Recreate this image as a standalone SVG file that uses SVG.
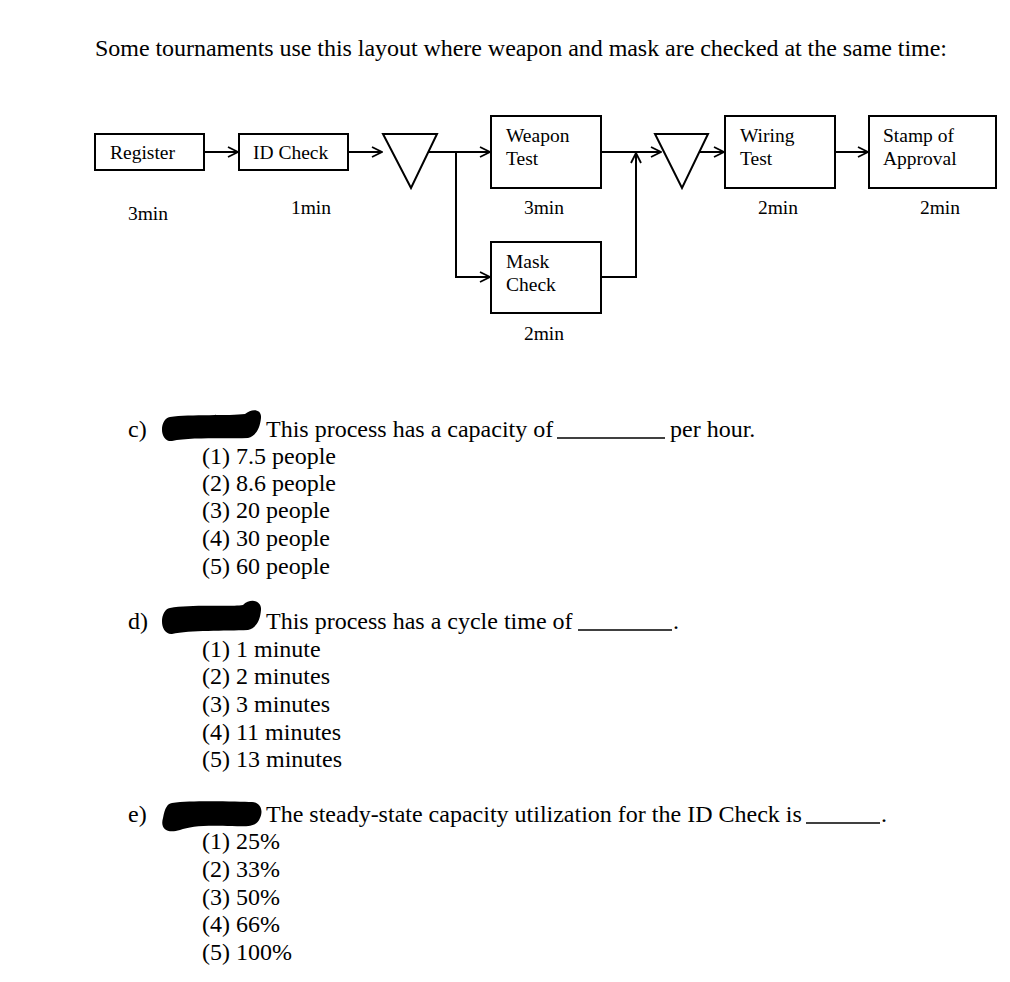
<svg xmlns="http://www.w3.org/2000/svg" width="1010" height="982" viewBox="0 0 1010 982">
<style>
text{font-family:"Liberation Serif","Times New Roman",serif;fill:#000}
.q{font-size:24px}
.d{font-size:19.5px}
.mid{text-anchor:middle}
.box{fill:#fff;stroke:#000;stroke-width:2}
.tri{fill:#fff;stroke:#000;stroke-width:2;stroke-linejoin:miter}
.ln{fill:none;stroke:#000;stroke-width:2}
.blank{stroke:#000;stroke-width:1.3}
</style>
<defs>
<marker id="ah" viewBox="0 0 12 12" refX="11" refY="6" markerWidth="12" markerHeight="12" markerUnits="userSpaceOnUse" orient="auto">
<path d="M1,1 L11,6 L1,11" fill="none" stroke="#000" stroke-width="1.8"/>
</marker>
</defs>
<rect width="1010" height="982" fill="#fff"/>
<text class="q" x="95" y="56" textLength="852" lengthAdjust="spacing">Some tournaments use this layout where weapon and mask are checked at the same time:</text>

<g id="connectors">
<line class="ln" x1="204" y1="152" x2="238" y2="152" marker-end="url(#ah)"/>
<line class="ln" x1="348" y1="152" x2="382" y2="152" marker-end="url(#ah)"/>
<line class="ln" x1="429" y1="152" x2="490" y2="152" marker-end="url(#ah)"/>
<polyline class="ln" points="456,152 456,277 490,277" marker-end="url(#ah)"/>
<line class="ln" x1="601" y1="152" x2="661" y2="152" marker-end="url(#ah)"/>
<polyline class="ln" points="601,277 636,277 636,153" marker-end="url(#ah)"/>
<line class="ln" x1="698" y1="152" x2="724" y2="152" marker-end="url(#ah)"/>
<line class="ln" x1="835" y1="152" x2="868" y2="152" marker-end="url(#ah)"/>
</g>

<g id="register">
<rect class="box" x="95" y="134" width="109" height="36"/>
<text class="d" x="110" y="159">Register</text>
<text class="d mid" x="148" y="220">3min</text>
</g>
<g id="id-check">
<rect class="box" x="239" y="134" width="109" height="36"/>
<text class="d" x="253" y="159">ID Check</text>
<text class="d mid" x="311" y="214">1min</text>
</g>
<g id="queue-1">
<polygon class="tri" points="383,134 437,134 411,188"/>
</g>
<g id="weapon-test">
<rect class="box" x="491" y="116" width="110" height="72"/>
<text class="d" x="506" y="142">Weapon</text>
<text class="d" x="506" y="165">Test</text>
<text class="d mid" x="544" y="214">3min</text>
</g>
<g id="mask-check">
<rect class="box" x="491" y="242" width="110" height="71"/>
<text class="d" x="506" y="268">Mask</text>
<text class="d" x="506" y="291">Check</text>
<text class="d mid" x="544" y="340">2min</text>
</g>
<g id="queue-2">
<polygon class="tri" points="655,134 708,134 682,188"/>
</g>
<g id="wiring-test">
<rect class="box" x="725" y="116" width="110" height="72"/>
<text class="d" x="740" y="142">Wiring</text>
<text class="d" x="740" y="165">Test</text>
<text class="d mid" x="778" y="214">2min</text>
</g>
<g id="stamp-of-approval">
<rect class="box" x="869" y="116" width="127" height="72"/>
<text class="d" x="883" y="142">Stamp of</text>
<text class="d" x="883" y="165">Approval</text>
<text class="d mid" x="940" y="214">2min</text>
</g>

<g id="question-c">
<text class="q" x="128" y="437">c)</text>
<path d="M170,417 C190,414 230,416 245,414 C252,408 262,409 261,418 C260,428 256,436 248,438 C225,439 190,437 172,441 C159,442 159,419 170,417 Z" fill="#000"/>
<text class="q" x="266" y="437">This process has a capacity of</text>
<line class="blank" x1="557" y1="438" x2="665" y2="438"/>
<text class="q" x="670" y="437">per hour.</text>
<text class="q" x="202" y="464">(1) 7.5 people</text>
<text class="q" x="202" y="491">(2) 8.6 people</text>
<text class="q" x="202" y="518">(3) 20 people</text>
<text class="q" x="202" y="546">(4) 30 people</text>
<text class="q" x="202" y="574">(5) 60 people</text>
</g>

<g id="question-d">
<text class="q" x="128" y="629">d)</text>
<path d="M170,608 C190,604 230,607 243,605 C250,598 262,600 261,610 C260,621 256,628 248,630 C225,631 190,630 172,634 C159,635 159,610 170,608 Z" fill="#000"/>
<text class="q" x="266" y="629">This process has a cycle time of</text>
<line class="blank" x1="578" y1="630" x2="672" y2="630"/>
<text class="q" x="673" y="629">.</text>
<text class="q" x="202" y="657">(1) 1 minute</text>
<text class="q" x="202" y="684">(2) 2 minutes</text>
<text class="q" x="202" y="712">(3) 3 minutes</text>
<text class="q" x="202" y="740">(4) 11 minutes</text>
<text class="q" x="202" y="767">(5) 13 minutes</text>
</g>

<g id="question-e">
<text class="q" x="128" y="822">e)</text>
<path d="M172,803 C195,800 240,802 252,802 C262,803 263,812 260,818 C257,826 250,827 232,826 C205,825 190,826 180,830 C166,834 160,828 163,818 C165,808 167,804 172,803 Z" fill="#000"/>
<text class="q" x="266" y="822">The steady-state capacity utilization for the ID Check is</text>
<line class="blank" x1="806" y1="823" x2="880" y2="823"/>
<text class="q" x="881" y="822">.</text>
<text class="q" x="202" y="849">(1) 25%</text>
<text class="q" x="202" y="877">(2) 33%</text>
<text class="q" x="202" y="905">(3) 50%</text>
<text class="q" x="202" y="932">(4) 66%</text>
<text class="q" x="202" y="960">(5) 100%</text>
</g>
</svg>
